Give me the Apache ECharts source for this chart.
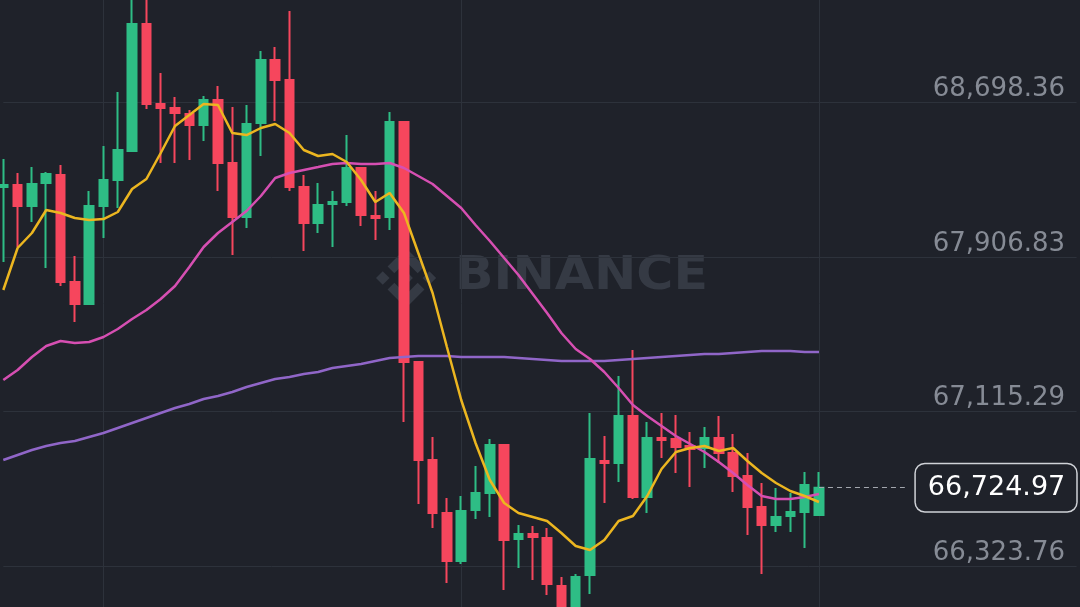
<!DOCTYPE html>
<html><head><meta charset="utf-8">
<script src="https://cdn.jsdelivr.net/npm/echarts@6/dist/echarts.min.js"></script>
<style>html,body{margin:0;padding:0;background:#1f222a;}#c{width:1080px;height:607px;}</style>
</head><body><div id="c"></div>
<script>
const opens = [68266.1, 68276.4, 68168.7, 68286.6, 68327.6, 67779.2, 67666.5, 68168.7, 68302.0, 68450.6,
  69101.5, 68691.5, 68671.0, 68640.2, 68583.9, 68712.0, 68389.1, 68112.4, 68594.1, 68917.0,
  68814.5, 68266.1, 68081.6, 68179.0, 68189.2, 68363.5, 68117.5, 68112.4, 68599.2, 67369.2,
  66867.0, 66595.4, 66349.4, 66610.7, 66697.9, 66943.9, 66462.1, 66487.7, 66467.2, 66221.2,
  66088.0, 66277.6, 66861.9, 66851.6, 67092.5, 66677.4, 66979.7, 66974.6, 66938.7, 66928.5,
  66979.7, 66902.9, 66785.0, 66626.1, 66533.9, 66580.0, 66600.5, 66585.1];
const highs = [68409.6, 68337.9, 68368.6, 68343.0, 68378.9, 67912.5, 68245.6, 68476.2, 68753.0, 69250.1,
  69250.1, 68850.4, 68727.4, 68660.7, 68732.5, 68783.7, 68676.1, 68686.4, 68963.1, 68983.6,
  69168.1, 68327.6, 68286.6, 68245.6, 68532.6, 68363.5, 68245.6, 68650.5, 68599.2, 67369.2,
  66984.9, 66672.2, 66682.5, 66836.2, 66974.6, 66943.9, 66533.9, 66528.7, 66518.5, 66267.4,
  66282.7, 67107.9, 66990.0, 67297.5, 67430.7, 67061.7, 67107.9, 67097.6, 67010.5, 67036.1,
  67092.5, 67000.2, 66902.9, 66749.1, 66723.5, 66697.9, 66805.5, 66805.5];
const lows = [67881.7, 67958.6, 68086.7, 67851.0, 67758.7, 67574.2, 67666.5, 68004.7, 68158.5, 68450.6,
  68665.9, 68389.1, 68389.1, 68404.5, 68501.9, 68245.6, 67917.6, 68056.0, 68425.0, 68604.4,
  68245.6, 67938.1, 68030.4, 67958.6, 68168.7, 68066.2, 67994.5, 68045.7, 67061.7, 66641.5,
  66518.5, 66236.6, 66334.0, 66564.6, 66574.9, 66200.7, 66313.5, 66252.0, 66175.1, 66036.7,
  66047.0, 66180.2, 66646.6, 66754.2, 66667.1, 66595.4, 66877.2, 66800.4, 66728.6, 66826.0,
  66851.6, 66703.0, 66482.6, 66282.7, 66498.0, 66498.0, 66416.0, 66585.1];
const closes = [68276.4, 68168.7, 68281.5, 68332.7, 67779.2, 67666.5, 68168.7, 68302.0, 68455.7, 69101.5,
  68691.5, 68671.0, 68645.4, 68583.9, 68712.0, 68389.1, 68112.4, 68589.0, 68917.0, 68814.5,
  68266.1, 68081.6, 68173.9, 68189.2, 68363.5, 68122.6, 68107.2, 68599.2, 67369.2, 66867.0,
  66595.4, 66349.4, 66605.6, 66697.9, 66943.9, 66457.0, 66487.7, 66472.4, 66231.5, 66088.0,
  66267.4, 66872.1, 66851.6, 67092.5, 66677.4, 66979.7, 66969.5, 66933.6, 66923.4, 66979.7,
  66902.9, 66785.0, 66626.1, 66533.9, 66574.9, 66600.5, 66738.9, 66724.97];
const ma7 = [67738.3, 67953.5, 68030.4, 68148.3, 68132.9, 68107.2, 68097.0, 68102.1, 68138.0, 68255.9,
  68307.1, 68440.4, 68578.8, 68635.1, 68691.5, 68686.4, 68542.9, 68532.6, 68568.5, 68589.0,
  68542.9, 68455.7, 68425.0, 68435.3, 68394.3, 68302.0, 68189.2, 68235.4, 68132.9, 67927.9,
  67722.9, 67446.1, 67174.5, 66954.1, 66764.5, 66646.6, 66595.4, 66574.9, 66554.4, 66492.9,
  66426.3, 66405.8, 66457.0, 66554.4, 66580.0, 66682.5, 66820.9, 66908.0, 66928.5, 66938.7,
  66913.1, 66928.5, 66861.9, 66800.4, 66749.1, 66708.1, 66682.5, 66651.8];
const ma25 = [67277.0, 67328.3, 67394.9, 67451.3, 67476.9, 67466.6, 67471.8, 67497.4, 67538.4, 67589.6,
  67635.8, 67692.1, 67758.8, 67856.1, 67958.6, 68030.4, 68086.7, 68143.1, 68220.0, 68312.3,
  68337.9, 68353.3, 68368.6, 68384.0, 68389.1, 68384.0, 68384.0, 68389.1, 68363.5, 68322.5,
  68281.5, 68220.0, 68158.5, 68071.4, 67989.4, 67902.3, 67815.1, 67717.8, 67620.4, 67517.9,
  67435.9, 67384.6, 67318.0, 67236.0, 67148.9, 67092.5, 67041.3, 66990.0, 66949.0, 66908.0,
  66856.8, 66800.4, 66738.9, 66682.5, 66667.1, 66667.1, 66677.4, 66692.8];
const ma99 = [66867.0, 66892.6, 66918.3, 66938.7, 66954.1, 66964.4, 66984.9, 67005.4, 67031.0, 67056.6,
  67082.3, 67107.9, 67133.5, 67154.0, 67179.6, 67195.0, 67215.5, 67241.1, 67261.6, 67282.1,
  67292.4, 67307.8, 67318.0, 67338.5, 67348.8, 67359.0, 67374.4, 67389.8, 67394.9, 67400.0,
  67400.0, 67400.0, 67394.9, 67394.9, 67394.9, 67394.9, 67389.8, 67384.6, 67379.5, 67374.4,
  67374.4, 67374.4, 67374.4, 67379.5, 67384.6, 67389.8, 67394.9, 67400.0, 67405.1, 67410.3,
  67410.3, 67415.4, 67420.5, 67425.6, 67425.6, 67425.6, 67420.5, 67420.5];
const yTicks = [66323.76, 67115.29, 67906.83, 68698.36];
const lastPrice = 66724.97;
const yMin = 66113.6, yMax = 69224.5;
const padCount = 18;

const categories = [];
for (let i = 0; i < opens.length + padCount; i++) categories.push(String(i));
const candles = opens.map((o, i) => [o, closes[i], lows[i], highs[i]]);
const lastCat = categories[opens.length - 1];
const priceEndCat = categories[opens.length + 5];
const fmt = v => Number(v).toFixed(2).replace(/\B(?=(\d{3})+(?!\d))/g, ',');

const BG = '#1f222a';
const WM = '#353a44';
// Binance logo outline (126.6 unit box)
const logoParts = [
  [[38.73,53.2],[63.3,28.63],[87.9,53.23],[102.2,38.93],[63.3,0],[24.43,38.87]],
  [[0,63.31],[14.3,49.01],[28.6,63.31],[14.3,77.6]],
  [[38.73,73.41],[63.3,98],[87.9,73.4],[102.21,87.69],[63.31,126.6],[24.43,87.64]],
  [[98.3,63.31],[112.6,49.01],[126.9,63.31],[112.6,77.61]],
  [[77.83,63.3],[63.3,48.76],[48.76,63.29],[63.3,77.83]]
];
const logoScale = 60 / 126.6;

const chart = echarts.init(document.getElementById('c'), null, {renderer: 'canvas'});
chart.setOption({
  backgroundColor: BG,
  animation: false,
  grid: {left: 3.3, right: 3.45, top: 0, bottom: 0, containLabel: false, outerBoundsMode: 'none'},
  xAxis: {
    type: 'category', data: categories, boundaryGap: false,
    axisLine: {show: false}, axisTick: {show: false}, axisLabel: {show: false},
    splitLine: {show: true, interval: (idx) => idx % 25 === 7, lineStyle: {color: '#2d323b', width: 1}}
  },
  yAxis: {
    type: 'value', position: 'right', min: yMin, max: yMax, scale: true,
    axisLine: {show: false},
    axisTick: {show: false, customValues: yTicks},
    axisLabel: {
      inside: true, customValues: yTicks, margin: 11.5, color: '#868b95',
      fontSize: 26, fontFamily: '"DejaVu Sans"', verticalAlign: 'bottom', formatter: fmt
    },
    splitLine: {show: true, lineStyle: {color: '#2d323b', width: 1}}
  },
  graphic: [
    {type: 'group', x: 376, y: 248, scaleX: logoScale, scaleY: logoScale, silent: true, z: 0,
     children: logoParts.map(p => ({type: 'polygon', shape: {points: p}, style: {fill: WM}}))},
    {type: 'text', z: 0, silent: true, x: 455, y: 277, scaleX: 1.1,
     style: {text: 'BINANCE', font: 'bold 46px "DejaVu Sans"', fill: WM, verticalAlign: 'middle', align: 'left'}}
  ],
  series: [
    {
      type: 'candlestick', data: candles, barWidth: 9, clip: false, z: 3,
      itemStyle: {color: '#2ebd85', color0: '#f6465d', borderColor: '#2ebd85', borderColor0: '#f6465d', borderWidth: 2},
      markLine: {
        silent: true, symbol: ['none', 'none'], z: 4,
        lineStyle: {type: [5, 4], color: '#a3a7ae', width: 1},
        label: {
          show: true, position: 'end', distance: 11, formatter: () => fmt(lastPrice),
          color: '#ffffff', fontSize: 27, fontFamily: '"DejaVu Sans"',
          backgroundColor: BG, borderColor: '#d0d3d8', borderWidth: 1.5, borderRadius: 9,
          padding: [10, 11, 10, 12]
        },
        data: [[{coord: [lastCat, lastPrice]}, {coord: [priceEndCat, lastPrice]}]]
      }
    },
    {type: 'line', data: ma99, symbol: 'none', z: 4, lineStyle: {color: '#9066c8', width: 2.5}},
    {type: 'line', data: ma25, symbol: 'none', z: 4, lineStyle: {color: '#d64fb2', width: 2.5}},
    {type: 'line', data: ma7, symbol: 'none', z: 4, lineStyle: {color: '#ecb620', width: 2.5}}
  ]
});
</script></body></html>
